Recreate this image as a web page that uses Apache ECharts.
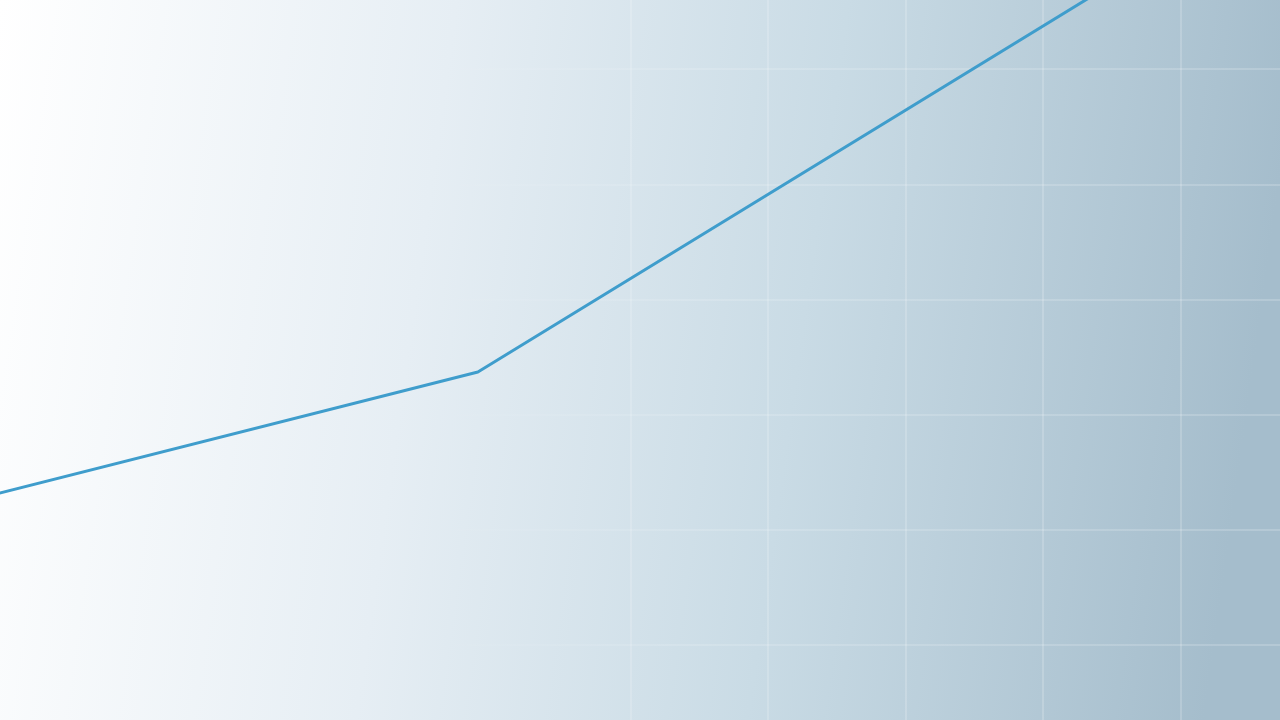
<!DOCTYPE html>
<html>
<head>
<meta charset="utf-8">
<title>Line</title>
<script src="https://cdn.jsdelivr.net/npm/echarts@6/dist/echarts.min.js"></script>
<style>
  html, body { margin: 0; padding: 0; }
  #main { width: 1280px; height: 720px; }
</style>
</head>
<body>
<div id="main"></div>
<script>
  // values (x, y in grid units)
  var xValues = [0.35, 3.89, 8.35];
  var yValues = [2.30, 3.37, 6.63];
  // faint vertical grid lines only show on the right half
  var vLineColors = ['rgba(255,255,255,0)', 'rgba(255,255,255,0)', 'rgba(255,255,255,0)',
    'rgba(255,255,255,0)', 'rgba(255,255,255,0)', 'rgba(255,255,255,0.16)',
    'rgba(255,255,255,0.17)', 'rgba(255,255,255,0.18)', 'rgba(255,255,255,0.18)',
    'rgba(255,255,255,0.18)', 'rgba(255,255,255,0.18)'];

  var points = xValues.map(function (x, i) { return [x, yValues[i]]; });

  var myChart = echarts.init(document.getElementById('main'));
  var option = {
    backgroundColor: new echarts.graphic.LinearGradient(0, 0, 1, 0.25, [
      { offset: 0, color: '#ffffff' },
      { offset: 0.35, color: '#e6eef4' },
      { offset: 0.65, color: '#c9dbe5' },
      { offset: 1, color: '#a5bdcc' }
    ]),
    animation: false,
    grid: { left: -57, right: -38, top: -46, bottom: -40, outerBoundsMode: 'none', containLabel: false },
    xAxis: {
      type: 'value', min: 0, max: 10, interval: 1,
      axisLine: { show: false }, axisTick: { show: false }, axisLabel: { show: false },
      splitLine: { show: true, lineStyle: { color: vLineColors, width: 2 } }
    },
    yAxis: {
      type: 'value', min: 0, max: 7, interval: 1,
      axisLine: { show: false }, axisTick: { show: false }, axisLabel: { show: false },
      splitLine: {
        show: true,
        lineStyle: {
          width: 2,
          color: new echarts.graphic.LinearGradient(0, 0, 1, 0, [
            { offset: 0, color: 'rgba(255,255,255,0)' },
            { offset: 0.35, color: 'rgba(255,255,255,0)' },
            { offset: 0.55, color: 'rgba(255,255,255,0.14)' },
            { offset: 1, color: 'rgba(255,255,255,0.18)' }
          ])
        }
      }
    },
    series: [{
      type: 'line',
      data: points,
      symbol: 'none',
      lineStyle: { color: '#3f9dcc', width: 3 }
    }]
  };
  myChart.setOption(option);
</script>
</body>
</html>
